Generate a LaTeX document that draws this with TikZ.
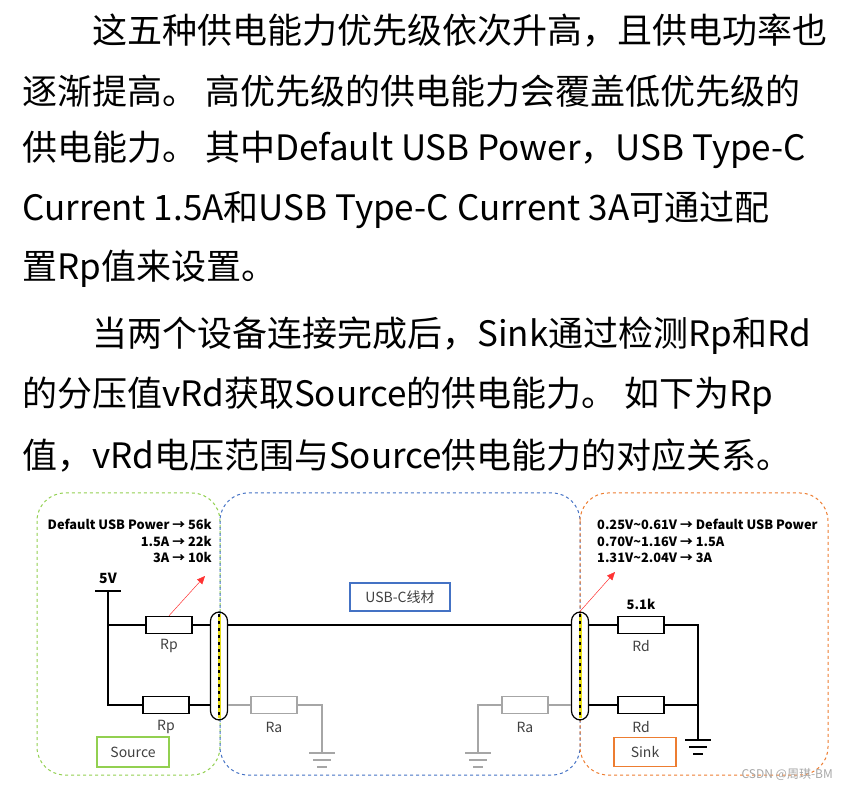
\documentclass[tikz,border=0pt]{standalone}
\usepackage{fontspec}
\setmainfont{Noto Sans CJK SC}
\usetikzlibrary{arrows.meta}
\definecolor{gbox}{RGB}{146,208,80}
\definecolor{bbox}{RGB}{68,114,196}
\definecolor{obox}{RGB}{237,125,49}
\begin{document}
\begin{tikzpicture}[x=1pt,y=-1pt,
 para/.style={anchor=west,inner sep=0,font=\fontsize{35}{35}\selectfont},
 res/.style={draw,line width=1.5pt,minimum width=46pt,minimum height=17pt,inner sep=0},
 gres/.style={draw=gray!70,line width=1.2pt,minimum width=46pt,minimum height=17pt,inner sep=0},
 lbl/.style={font=\fontsize{14}{14}\selectfont,text=black!75,inner sep=0},
 info/.style={font=\fontsize{12.8}{16.5}\selectfont\bfseries,inner sep=0},
 wire/.style={line width=1.5pt},
 gwire/.style={gray!70,line width=1.2pt},
 box/.style={dashed,line width=1pt,rounded corners=28pt},
 conn/.style={draw,line width=1.2pt,rounded corners=9pt,minimum width=17pt,minimum height=108pt,inner sep=0},
 redarr/.style={red!80,-{Triangle[length=8pt,width=7pt]},line width=0.5pt}]
\useasboundingbox (0,0) rectangle (847,791);
\node[para] (p1) at (92,31) {这五种供电能力优先级依次升高，且供电功率也};
\node[para] (p2) at (22,91) {逐渐提高。 高优先级的供电能力会覆盖低优先级的};
\node[para] (p3) at (22,150) {供电能力。 其中Default USB Power，USB Type-C};
\node[para] (p4) at (22,210) {Current 1.5A和USB Type-C Current 3A可通过配};
\node[para] (p5) at (22,269) {置Rp值来设置。};
\node[para] (p6) at (92,336) {当两个设备连接完成后，Sink通过检测Rp和Rd};
\node[para] (p7) at (22,396) {的分压值vRd获取Source的供电能力。 如下为Rp};
\node[para] (p8) at (22,456) {值，vRd电压范围与Source供电能力的对应关系。};
% boxes
\draw[box,draw=gbox] (37,493) rectangle (220,775);
\draw[box,draw=bbox] (220,493) rectangle (580,775);
\draw[box,draw=obox] (580,493) rectangle (828,775);
% info texts
\node[info,align=right,anchor=north east] (ti) at (212,519) {Default USB Power \textrightarrow{} 56k\\1.5A \textrightarrow{} 22k\\3A \textrightarrow{} 10k};
\node[info,align=left,anchor=north west] (ri) at (597,519) {0.25V\textasciitilde0.61V \textrightarrow{} Default USB Power\\0.70V\textasciitilde1.16V \textrightarrow{} 1.5A\\1.31V\textasciitilde2.04V \textrightarrow{} 3A};
% left source
\node[font=\fontsize{14}{14}\selectfont\bfseries,inner sep=0] (v5) at (108,578) {5V};
\coordinate (vb) at (108,591);
\draw[wire] (95,591) -- (121,591);
\node[res] (rp1) at (169,625) {};
\node[res] (rp2) at (166,705) {};
\node[lbl] at (169,646) {Rp};
\node[lbl] at (166,727) {Rp};
\node[conn] (cl) at (219,666) {};
\node[conn] (cr) at (580,666) {};
\draw[yellow!90!black,line width=3pt] (219,614) -- (219,718);
\draw[black,line width=1.2pt,dash pattern=on 3pt off 4pt] (219,614) -- (219,718);
\draw[yellow!90!black,line width=3pt] (580,614) -- (580,718);
\draw[black,line width=1.2pt,dash pattern=on 3pt off 4pt] (580,614) -- (580,718);
\draw[wire] (vb) -- (108,705) -- (rp2.west);
\draw[wire] (108,625) -- (rp1.west);
\draw[wire] (rp1.east) -- (cl.west|-rp1.east);
\draw[wire] (rp2.east) -- (cl.west|-rp2.east);
\draw[wire] (cl.east|-rp1.east) -- (cr.west|-rp1.east);
% Ra
\node[gres] (ra1) at (274,705) {};
\node[lbl] at (274,727) {Ra};
\draw[gwire] (cl.east|-ra1.west) -- (ra1.west);
\draw[gwire] (ra1.east) -- (322,705) -- (322,753);
\draw[gwire] (309,753) -- (335,753) (313,760) -- (331,760) (317,767) -- (327,767);
\node[gres] (ra2) at (525,705) {};
\node[lbl] at (525,727) {Ra};
\draw[gwire] (cr.west|-ra2.east) -- (ra2.east);
\draw[gwire] (ra2.west) -- (478,705) -- (478,753);
\draw[gwire] (465,753) -- (491,753) (469,760) -- (487,760) (473,767) -- (483,767);
% Rd
\node[res] (rd1) at (641,625) {};
\node[res] (rd2) at (641,705) {};
\node[font=\fontsize{13}{13}\selectfont\bfseries,inner sep=0] at (641,604) {5.1k};
\node[lbl] at (641,646) {Rd};
\node[lbl] at (641,727) {Rd};
\draw[wire] (cr.east|-rd1.west) -- (rd1.west);
\draw[wire] (cr.east|-rd2.west) -- (rd2.west);
\draw[wire] (rd1.east) -- (698,625) -- (698,740);
\draw[wire] (rd2.east) -- (698,705);
\draw[wire] (685,740) -- (711,740) (689,747) -- (707,747) (693,754) -- (703,754);
% labels boxes
\node[draw=gbox,line width=1.2pt,minimum width=72pt,minimum height=30pt,lbl] (src) at (133,752) {Source};
\node[draw=bbox,line width=1.2pt,minimum width=100pt,minimum height=28pt,lbl] (usb) at (400,597) {USB-C线材};
\node[draw=obox,line width=1.2pt,minimum width=62pt,minimum height=29pt,lbl] (snk) at (645,752) {Sink};
% red arrows
\draw[redarr] (rp1.north) -- (205,576);
\draw[redarr] (cr.north) -- (615,572);
\node[font=\fontsize{12}{12}\selectfont,text=gray!70,inner sep=0,anchor=east] (wm) at (833,774) {CSDN @周琪-BM};
\end{tikzpicture}
\end{document}
